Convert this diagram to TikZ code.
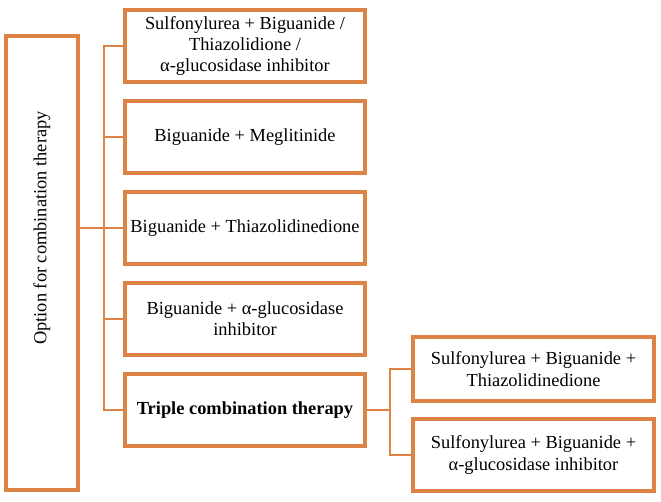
\documentclass[tikz,border=0pt]{standalone}
\usepackage{fontspec}
\setmainfont{Liberation Serif}
\usetikzlibrary{shadows}
\definecolor{org}{HTML}{DD8444}
\begin{document}
\begin{tikzpicture}[x=0.75pt,y=-0.75pt,
  box/.style={draw=org,line width=2.4pt,fill=white,align=center,font=\fontsize{13.8}{16}\selectfont,
    drop shadow={shadow xshift=1pt,shadow yshift=-1pt,opacity=0.35},inner sep=0pt},
  ln/.style={draw=org,line width=2pt}]
\useasboundingbox (0,0) rectangle (661,501);
\node[box,minimum width=72*0.75pt,minimum height=454*0.75pt] (L) at (42,263) {};
\node[rotate=90,font=\fontsize{13.8}{16}\selectfont] (Lt) at (42,228) {Option for combination therapy};
\foreach \n/\y/\t in {a/46/{Sulfonylurea + Biguanide /\\Thiazolidione /\\α-glucosidase inhibitor},
  b/137/{Biguanide + Meglitinide},
  c/228/{Biguanide + Thiazolidinedione},
  d/319/{Biguanide + α-glucosidase\\inhibitor},
  e/410/{\textbf{Triple combination therapy}}}
  \node[box,minimum width=240*0.75pt,minimum height=72*0.75pt] (\n) at (245,\y) {\t};
\node[box,minimum width=241*0.75pt,minimum height=64*0.75pt] (f) at (533.5,369) {Sulfonylurea + Biguanide +\\Thiazolidinedione};
\node[box,minimum width=241*0.75pt,minimum height=72*0.75pt] (g) at (533.5,455) {Sulfonylurea + Biguanide +\\α-glucosidase inhibitor};
\coordinate (j) at (104,228);
\draw[ln] (L.east |- j) -- (j);
\draw[ln] (a.west) -| (104,410) -- (e.west);
\foreach \n in {b,c,d} \draw[ln] (\n.west) -- (\n.west -| j);
\coordinate (k) at (390,410);
\draw[ln] (e.east) -- (k);
\draw[ln] (f.west) -| (g.west -| k) -- (g.west);
\end{tikzpicture}
\end{document}
